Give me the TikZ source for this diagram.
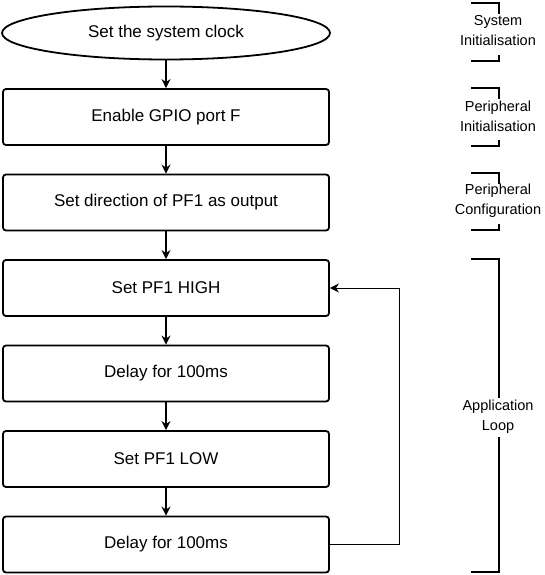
\documentclass[tikz,border=0pt]{standalone}
\usepackage{fontspec}
\setmainfont{Liberation Sans}
\usetikzlibrary{positioning,arrows.meta,shapes}
\tikzset{
	%Estils dels nodes del diagrama
	base/.style = {rectangle, rounded corners=3pt, draw=black, line width=1.8pt,
                           minimum width=326pt, minimum height=56pt,
                           text centered, font=\fontsize{17}{20}\selectfont},
	inici/.style = {ellipse, draw=black, line width=1.8pt,
                           minimum width=328pt, minimum height=53pt,
                           text centered, font=\fontsize{17}{20}\selectfont},
	fase/.style = {align=center, inner sep=0pt, font=\fontsize{14.5}{20}\selectfont},
	fletxa/.style = {-{Stealth[length=9pt,width=9pt]}, line width=1.5pt},
	clau/.style = {line width=1.2pt}
}
\begin{document}
\begin{tikzpicture}[x=1pt, y=-1pt, node distance=85.5pt]
		\useasboundingbox (0,0) rectangle (544,575);
		\node (clk)  [inici] at (166,33)    {Set the system clock};
		\node (gpio) [base, below of=clk, node distance=84pt] {Enable GPIO port F};
		\node (dir)  [base, below of=gpio]  {Set direction of PF1 as output};
		\node (high) [base, below of=dir]   {Set PF1 HIGH};
		\node (dly1) [base, below of=high]  {Delay for 100ms};
		\node (low)  [base, below of=dly1]  {Set PF1 LOW};
		\node (dly2) [base, below of=low]   {Delay for 100ms};

		\draw[fletxa] (clk) -- (gpio);
		\draw[fletxa] (gpio) -- (dir);
		\draw[fletxa] (dir) -- (high);
		\draw[fletxa] (high) -- (dly1);
		\draw[fletxa] (dly1) -- (low);
		\draw[fletxa] (low) -- (dly2);
		\draw[fletxa, line width=1pt] (dly2.east) -- ++(70,0) |- (high.east);

		% fases a la dreta
		\node (sys)   [fase] at (498,31)  {System\\Initialisation};
		\node (pini)  [fase] at (498,116) {Peripheral\\Initialisation};
		\node (pconf) [fase] at (498,201) {Peripheral\\Configuration};
		\node (app)   [fase] at (498,417) {Application\\Loop};

		\foreach \t/\a/\b/\c in {3/14/55/61, 88/99/140/146, 173/184/224/230, 259/398/437/572} {
			\draw[clau] (471,\t) -| (499,\a);
			\draw[clau] (471,\c) -| (499,\b);
		}
	\end{tikzpicture}
\end{document}
